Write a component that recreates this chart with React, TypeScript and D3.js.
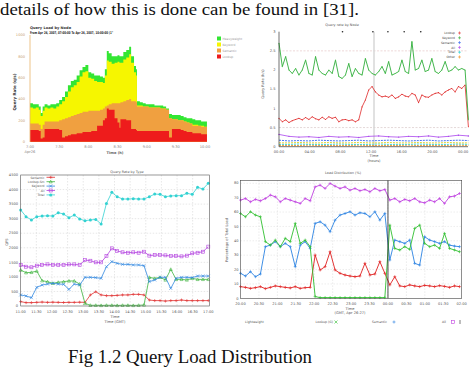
import React from 'react';
import * as d3 from 'd3';

// ---------------- Panel A (top-left): stacked query rate by class ----------------
const aMinutes = [0,3,6,9,11,13,15,18,21,24,27,30,33,36,39,42,45,48,51,54,57,60,63,66,69,72,75,77,79,81,84,87,90,92,93,96,99,102,104,107,109,110,113,116,119,122,125,128,131,134,137,140,143,146,149,152,155,158,161,164,167,170,173,176,179,182];
const aLookupTop = [11,11,11,10,3,4,12,12,12,12,12,11,4,5,6,7,7,8,8,9,9,9,10,10,15,15,20,22,31,30,30,22,18,13,21,21,20,20,12,12,11,10,10,10,10,10,10,10,10,10,10,10,4,12,12,12,11,10,9,9,8,8,8,7,7,7];
const aSemanticTop = [17,17,17,16,12,16,19,19,19,19,19,20,21,22,23,24,25,26,27,28,28,29,29,29,29,30,31,33,34,35,36,36,36,36,37,38,39,40,38,38,37,33,33,33,33,32,32,32,32,31,31,30,22,21,21,20,20,19,18,17,15,15,15,14,14,14];
const aKeywordTop = [32,31,32,30,24,29,32,31,32,31,33,35,38,42,47,51,53,56,61,65,66,60,59,57,56,56,55,62,76,75,73,74,75,74,74,77,79,82,74,65,62,34,34,33,33,32,32,32,32,31,31,30,22,21,21,20,20,19,18,17,16,16,15,15,14,14];
const aTotal = [36,35,35,33,27,33,35,34,35,35,36,39,42,47,53,57,58,62,67,70,72,65,64,62,62,61,60,68,85,83,80,80,81,80,80,84,86,89,80,71,68,38,37,36,35,35,35,34,34,34,33,31,26,25,25,25,24,23,22,22,21,20,20,19,19,18];
const aYTicks = [0,20,40,60,80,100];
const aYLabels = ['0','200','400','600','800','1000'];
const aXTicks = [0,30,60,90,120,150,180];
const aXLabels = ['7:00','7:30','8:00','8:30','9:00','9:30','10:00'];
const aLegend = ['Heavyweight','Keyword','Semantic','Lookup'];

// ---------------- Panel B (top-right): rate per node ----------------
const bStepHours = 0.1083;
const bGreen = [2.70,2.09,2.35,2.00,1.91,2.04,1.87,2.00,2.26,1.91,1.87,2.35,2.00,1.91,1.87,2.00,1.91,2.26,1.83,1.78,1.87,2.17,1.83,2.04,1.91,1.87,2.30,2.00,1.91,1.87,1.96,2.09,1.91,2.22,1.87,1.91,1.96,2.26,1.96,1.91,2.74,2.00,2.04,2.26,1.96,2.00,2.30,1.96,1.91,2.00,2.22,1.96,2.00,2.09,2.00,2.04,2.00,0.70];
const bRed = [0.74,0.65,0.70,0.63,0.68,0.71,0.74,0.70,0.76,0.71,0.78,0.73,0.70,0.77,0.71,0.78,0.74,0.77,0.65,0.70,0.71,0.68,0.70,0.65,0.70,1.04,1.22,1.48,1.57,1.43,1.35,1.30,1.32,1.29,1.35,1.26,1.30,1.37,1.32,1.30,1.39,1.35,1.15,1.35,1.30,1.29,1.35,1.39,1.41,1.35,1.43,1.48,1.52,1.43,1.57,1.52,1.61,0.52];
const bPurple = [0.32,0.27,0.25,0.26,0.24,0.27,0.25,0.26,0.24,0.27,0.28,0.26,0.25,0.27,0.26,0.28,0.25,0.27,0.30,0.28];
const bBlue = [0.17,0.15,0.16,0.15,0.17,0.16,0.15,0.16,0.17,0.15,0.16,0.17,0.16,0.15,0.16,0.17,0.15,0.16,0.17,0.16];
const bYellow = [0.10,0.10,0.11,0.10,0.10,0.11,0.10,0.10,0.11,0.10,0.10,0.11,0.10,0.10,0.11,0.10,0.10,0.11,0.10,0.10];
const bCyan = [0.06,0.06,0.07,0.06,0.06,0.06,0.07,0.06,0.06,0.06,0.07,0.06,0.06,0.06,0.07,0.06,0.06,0.06,0.07,0.06];
const bOrange = [0.03,0.03,0.03,0.04,0.03,0.03,0.03,0.03,0.04,0.03,0.03,0.03,0.03,0.04,0.03,0.03,0.03,0.03,0.04,0.03];
const bEvents = [2.07,3.06,3.55,4.08,4.62];
const bYTicks = [0,0.5,1,1.5,2,2.5,3];
const bXLabels = ['00:00','04:00','08:00','12:00','16:00','20:00','00:00'];
const bLegend = ['Lookup','Keyword','Semantic','All','Total','Other'];

// ---------------- Panel C (bottom-left): rate by type ----------------
const cSamples = 36;
const cTotal = [6.6,6.14,5.91,6.14,6.18,6.2,6.18,6.41,6.32,6.07,6.25,5.98,5.86,5.91,5.95,5.63,7.05,7.81,7.51,7.35,7.35,7.37,7.35,7.35,7.51,7.69,7.67,7.51,7.56,7.58,7.58,7.74,7.67,8.15,8.04,8.43];
const cAll = [2.82,2.70,2.66,2.77,2.82,2.86,2.82,2.82,2.82,2.86,2.86,2.82,3.16,3.11,3.0,3.0,3.43,3.96,3.78,3.69,3.66,3.69,3.66,3.73,3.46,3.5,3.5,3.48,3.43,3.43,3.41,3.46,3.62,3.66,3.73,4.08];
const cKeyword = [0.76,0.69,0.57,1.28,1.44,1.51,1.56,1.51,1.49,1.14,1.51,1.44,1.97,1.97,1.95,1.9,2.7,3.05,2.93,2.86,2.86,2.82,2.82,2.77,1.67,1.79,1.97,1.97,1.21,1.9,1.97,1.97,1.95,2.06,2.06,2.06];
const cLookupSm = [2.47,2.29,2.31,2.4,1.74,1.67,1.56,1.63,1.67,1.72,1.72,1.51,0.18,0.05,0.05,0.04,0.05,0.05,0.04,0.05,0.05,0.04,0.05,0.07,1.97,1.9,1.97,1.79,2.52,1.83,1.83,1.79,1.9,1.83,1.83,1.83];
const cSemantic = [0.3,0.23,0.23,0.25,0.27,0.25,0.26,0.25,0.24,0.25,0.25,0.26,0.25,0.76,0.98,0.76,0.71,0.71,0.73,0.76,0.76,0.8,0.8,0.76,0.41,0.37,0.37,0.34,0.37,0.37,0.41,0.37,0.37,0.37,0.37,0.37];
const cYTicks = [0,1,2,3,4,5,6,7,8,9];
const cYLabels = ['0','500','1000','1500','2000','2500','3000','3500','4000','4500'];
const cXLabels = ['11:00','11:30','12:00','12:30','13:00','13:30','14:00','14:30','15:00','15:30','16:00','16:30','17:00'];
const cLegend = ['Semantic','Lookup-Sm','Keyword','All','Total'];

// ---------------- Panel D (bottom-right): share of total load ----------------
const dStepMinutes = 8.1;
const dAll = [68.3,69.4,67.1,68.8,67.8,69.4,71.8,70.6,67.1,69.4,68.3,67.1,66,69.4,67.8,77.5,78.7,76.4,79.9,78,76.4,77.5,75.2,76.4,74.8,75.7,74.1,76.4,74.8,75.7,68.3,69.4,67.1,68.8,67.8,69.4,67.1,66.4,68.3,67.1,69.4,66,70.6,71.1,72.9];
const dLookup = [59,56.7,60.2,57.9,56.7,39.4,37,40.5,35.9,41.7,39.4,52.1,38.2,40.5,35.9,1.2,0.5,0.5,0.5,0.5,0.5,0.5,0.5,0.5,0.5,0.5,0.5,0.5,0.5,0.5,50.9,34.7,33.6,35.9,34,48.6,50.9,38.2,35.9,37,34.7,45.1,34.7,33.6,32.4];
const dSemantic = [17.4,15.5,18.5,15,16.9,35.9,37,39.4,35.9,38.2,35.9,22,37,39.4,34.7,52.1,53.2,50.9,46.3,54.4,57.9,59,60.2,57.9,59.5,59,56.7,60.2,54.4,59,26.6,40.5,39.4,38.2,40.5,24.3,23.1,42.8,40.5,39.4,38.2,39.4,37,36.3,35.9];
const dLight = [8.1,7.6,6.9,7.4,8.1,6.7,7.6,8.6,8.1,7.6,7.2,8.1,6.9,7.4,7.6,30.1,19.7,22,32.4,19.7,17.4,16.2,15.5,15,15.5,24.3,16.2,16.9,25.5,17.4,9.3,15,8.6,8.1,9.3,8.6,8.1,9,8.6,8.1,8.8,8.3,7.6,8.6,8.1];
const dYTicks = [0,10,20,30,40,50,60,70,80];
const dXLabels = ['20:00','20:30','21:00','21:30','22:00','22:30','23:00','23:30','00:00','00:30','01:00','01:30','02:00'];
const dMarkMinutes = 240;
const dLegend = ['Lightweight','Lookup (G)','Semantic','All'];

const SANS = 'DejaVu Sans, Arial, sans-serif';
const SERIF = 'Liberation Serif, Times New Roman, serif';
const tiny = { fontFamily: SANS, fontSize: 3.6, fill: '#555' } as const;

function line(xs: number[], ys: number[], xs2: (v: number) => number, ys2: (v: number) => number, curve: d3.CurveFactory = d3.curveLinear) {
  return d3.line<number>().x((_, i) => xs2(xs[i])).y((d) => ys2(d)).curve(curve)(ys) ?? '';
}

function Marker({ kind, cx, cy, color }: { kind: string; cx: number; cy: number; color: string }) {
  const s = 1.5;
  if (kind === 'plus') return <path d={`M${cx - s},${cy}H${cx + s}M${cx},${cy - s}V${cy + s}`} stroke={color} strokeWidth={0.6} />;
  if (kind === 'tri') return <path d={`M${cx},${cy - s}L${cx + s},${cy + s * 0.8}L${cx - s},${cy + s * 0.8}Z`} fill="none" stroke={color} strokeWidth={0.6} />;
  if (kind === 'x') return <path d={`M${cx - s},${cy - s}L${cx + s},${cy + s}M${cx - s},${cy + s}L${cx + s},${cy - s}`} stroke={color} strokeWidth={0.6} />;
  if (kind === 'square') return <rect x={cx - s} y={cy - s} width={2 * s} height={2 * s} fill="none" stroke={color} strokeWidth={0.6} />;
  return <circle cx={cx} cy={cy} r={1.5} fill={color} />;
}

function PanelA() {
  const x = d3.scaleLinear([0, 180], [30, 205]);
  const y = d3.scaleLinear([0, 100], [141.7, 35]);
  const area = (hi: number[]) =>
    d3.area<number>().x((_, i) => x(aMinutes[i])).y0(y(0)).y1((d) => y(d)).curve(d3.curveStepAfter)(hi) ?? '';
  const layers = [
    { data: aTotal, color: '#33e633' },
    { data: aKeywordTop, color: '#f6f600' },
    { data: aSemanticTop, color: '#f0a040' },
    { data: aLookupTop, color: '#ee1c1c' },
  ];
  const legendColors = ['#33e633', '#f6f600', '#f0a040', '#ee1c1c'];
  return (
    <g>
      <text x={30} y={28.5} style={{ ...tiny, fontSize: 3.6, fill: '#333', fontWeight: 'bold' }}>Query Load by Node</text>
      <text x={30} y={33.5} textLength={83} lengthAdjust="spacingAndGlyphs" style={{ ...tiny, fontSize: 3.8, fill: '#222', fontWeight: 'bold' }}>
        From Apr 26, 2007, 07:00:00 To Apr 26, 2007, 10:00:00 (1"
      </text>
      {layers.map((l, k) => <path key={k} d={area(l.data)} fill={l.color} />)}
      <line x1={30} x2={30} y1={35} y2={142} stroke="#e9b46a" strokeWidth={0.8} />
      {aYTicks.map((t, i) => (
        <text key={t} x={25} y={y(t) + 1.2} textAnchor="end" style={{ ...tiny, fill: '#c8a070' }}>{aYLabels[i]}</text>
      ))}
      {aXTicks.map((t, i) => (
        <text key={t} x={x(t)} y={148} textAnchor="middle" style={{ ...tiny, fill: '#888' }}>{aXLabels[i]}</text>
      ))}
      <text x={x(0)} y={153} textAnchor="middle" style={{ ...tiny, fill: '#888' }}>Apr26</text>
      <text x={115} y={153.5} textAnchor="middle" style={{ ...tiny, fill: '#666', fontWeight: 'bold' }}>Time (h)</text>
      <text transform="translate(15.5,92) rotate(-90)" textAnchor="middle" style={{ ...tiny, fontSize: 4, fill: '#333', fontWeight: 'bold' }}>Query Rate (q/s)</text>
      {aLegend.map((name, i) => (
        <g key={name}>
          <rect x={217} y={36.5 + i * 6} width={4} height={4} fill={legendColors[i]} />
          <text x={222.5} y={39.8 + i * 6} style={{ ...tiny, fontSize: 3, fill: '#999' }}>{name}</text>
        </g>
      ))}
    </g>
  );
}

function PanelB() {
  const x = d3.scaleLinear([0, 6.16], [279, 468]);
  const y = d3.scaleLinear([0, 3], [146.7, 31.7]);
  const fineHours = bGreen.map((_, i) => i * bStepHours);
  const coarseHours = bPurple.map((_, i) => i * 3 * bStepHours);
  const flat = [
    { data: bOrange, color: '#f09020' },
    { data: bCyan, color: '#22d0d8' },
    { data: bYellow, color: '#e0d020' },
    { data: bBlue, color: '#3366ee' },
  ];
  const legendColors = ['#e03030', '#33aa33', '#3366ee', '#aa44ee', '#22ccd0', '#f09020'];
  return (
    <g>
      <text x={342} y={25.5} textAnchor="middle" style={{ ...tiny, fontSize: 3.4, fill: '#555' }}>Query rate by Node</text>
      <line x1={x(0)} x2={468} y1={y(2.5)} y2={y(2.5)} stroke="#e8c8c8" strokeWidth={0.7} strokeDasharray="2,1.5" />
      <line x1={x(0)} x2={468} y1={y(0.5)} y2={y(0.5)} stroke="#d8c8c8" strokeWidth={0.7} strokeDasharray="2,1.5" />
      <line x1={374} x2={374} y1={31.7} y2={146.7} stroke="#d4d4d4" strokeWidth={1.4} />
      {flat.map((f, k) => (
        <path key={k} d={line(coarseHours, f.data, x, y)} fill="none" stroke={f.color} strokeWidth={0.9} strokeDasharray="2,1" />
      ))}
      <path d={line(coarseHours, bPurple, x, y)} fill="none" stroke="#aa44ee" strokeWidth={0.8} />
      {bPurple.map((v, i) => <circle key={i} cx={x(coarseHours[i])} cy={y(v)} r={0.7} fill="#aa44ee" />)}
      <path d={line(fineHours, bRed, x, y)} fill="none" stroke="#e02a2a" strokeWidth={0.8} />
      {bRed.map((v, i) => <circle key={i} cx={x(fineHours[i])} cy={y(v)} r={0.55} fill="#e02a2a" />)}
      <path d={line(fineHours, bGreen, x, y)} fill="none" stroke="#2fae3a" strokeWidth={0.9} />
      {bGreen.map((v, i) => <circle key={i} cx={x(fineHours[i])} cy={y(v)} r={0.55} fill="#54c454" />)}
      {bEvents.map((h, i) => <circle key={i} cx={x(h)} cy={y(3)} r={0.8} fill="#222" />)}
      <line x1={279} x2={279} y1={31.7} y2={146.7} stroke="#333" strokeWidth={0.7} />
      <line x1={279} x2={468} y1={146.7} y2={146.7} stroke="#333" strokeWidth={0.7} />
      {bYTicks.map((t) => (
        <text key={t} x={275.5} y={y(t) + 1.2} textAnchor="end" style={tiny}>{t}</text>
      ))}
      {bXLabels.map((l, i) => (
        <text key={i} x={x(i)} y={152.5} textAnchor="middle" style={tiny}>{l}</text>
      ))}
      <text x={374} y={157} textAnchor="middle" style={tiny}>Time</text>
      <text x={374} y={161.5} textAnchor="middle" style={tiny}>(hours)</text>
      <text transform="translate(264,84) rotate(-90)" textAnchor="middle" style={tiny}>Query Rate (k/s)</text>
      {bLegend.map((name, i) => (
        <g key={name}>
          <text x={455} y={34.2 + i * 4.8} textAnchor="end" style={{ ...tiny, fontSize: 3, fill: '#444' }}>{name}</text>
          <Marker kind="plus" cx={459.5} cy={33 + i * 4.8} color={legendColors[i]} />
        </g>
      ))}
    </g>
  );
}

function PanelC() {
  const x = d3.scaleLinear([0, 360], [20.7, 208.3]);
  const y = d3.scaleLinear([0, 9], [306, 175]);
  const minutes = d3.range(cSamples).map((i) => (i * 360) / (cSamples - 1));
  const series = [
    { data: cSemantic, color: '#e03030', kind: 'plus' },
    { data: cLookupSm, color: '#3fb43f', kind: 'tri' },
    { data: cKeyword, color: '#2f86e0', kind: 'x' },
    { data: cAll, color: '#b444e0', kind: 'square' },
    { data: cTotal, color: '#33d2d2', kind: 'circle' },
  ];
  const xTicks = cXLabels.map((_, i) => i * 30);
  return (
    <g>
      <text x={127} y={173} textAnchor="middle" style={{ ...tiny, fontSize: 3.4 }}>Query Rate by Type</text>
      {cYTicks.slice(1, -1).map((t) => (
        <line key={t} x1={20.7} x2={209.3} y1={y(t)} y2={y(t)} stroke="#cfcfcf" strokeWidth={0.5} strokeDasharray="1.5,1.5" />
      ))}
      {xTicks.slice(1, -1).map((t) => (
        <line key={t} x1={x(t)} x2={x(t)} y1={175} y2={306} stroke="#cfcfcf" strokeWidth={0.5} strokeDasharray="1.5,1.5" />
      ))}
      {series.map((s) => (
        <g key={s.color}>
          <path d={line(minutes, s.data, x, y)} fill="none" stroke={s.color} strokeWidth={0.8} />
          {s.data.map((v, i) => <Marker key={i} kind={s.kind} cx={x(minutes[i])} cy={y(v)} color={s.color} />)}
        </g>
      ))}
      <rect x={20.7} y={175} width={188.6} height={131} fill="none" stroke="#555" strokeWidth={0.6} />
      {cYTicks.map((t, i) => (
        <text key={t} x={18} y={y(t) + 1.2} textAnchor="end" style={tiny}>{cYLabels[i]}</text>
      ))}
      {cXLabels.map((l, i) => (
        <text key={i} x={x(xTicks[i])} y={312.5} textAnchor="middle" style={tiny}>{l}</text>
      ))}
      <text x={115} y={317.5} textAnchor="middle" style={tiny}>Time</text>
      <text x={115} y={322.5} textAnchor="middle" style={tiny}>Time (GMT)</text>
      <text transform="translate(8,242) rotate(-90)" textAnchor="middle" style={tiny}>QPS</text>
      {cLegend.map((name, i) => {
        const s = series[i];
        const ly = 177.3 + i * 4.4;
        return (
          <g key={name}>
            <text x={44.5} y={ly + 1.2} textAnchor="end" style={{ ...tiny, fontSize: 3 }}>{name}</text>
            <line x1={46.5} x2={55} y1={ly} y2={ly} stroke={s.color} strokeWidth={0.8} />
            <Marker kind={s.kind} cx={50.7} cy={ly} color={s.color} />
          </g>
        );
      })}
    </g>
  );
}

function PanelD() {
  const x = d3.scaleLinear([0, 360], [240.5, 461.7]);
  const y = d3.scaleLinear([0, 82], [298.3, 180.4]);
  const minutes = dAll.map((_, i) => i * dStepMinutes);
  const series = [
    { data: dLight, color: '#e02020' },
    { data: dSemantic, color: '#2a82e2' },
    { data: dLookup, color: '#30c030' },
    { data: dAll, color: '#c040e0' },
  ];
  const xTicks = dXLabels.map((_, i) => i * 30);
  return (
    <g>
      <text x={343} y={173.5} textAnchor="middle" style={{ ...tiny, fontSize: 3.4 }}>Load Distribution (%)</text>
      {dYTicks.slice(1).map((t) => (
        <line key={t} x1={240.5} x2={461.7} y1={y(t)} y2={y(t)} stroke="#dadada" strokeWidth={0.5} strokeDasharray="1.5,1.5" />
      ))}
      {xTicks.slice(1, -1).map((t) => (
        <line key={t} x1={x(t)} x2={x(t)} y1={180.4} y2={298.3} stroke="#d4d4d4" strokeWidth={0.5} strokeDasharray="1.5,1.5" />
      ))}
      {series.map((s) => (
        <g key={s.color}>
          <path d={line(minutes, s.data, x, y)} fill="none" stroke={s.color} strokeWidth={0.9} />
          {s.data.map((v, i) => <Marker key={i} kind="plus" cx={x(minutes[i])} cy={y(v)} color={s.color} />)}
        </g>
      ))}
      <line x1={x(dMarkMinutes)} x2={x(dMarkMinutes)} y1={180.4} y2={298.3} stroke="#222" strokeWidth={0.8} />
      <rect x={240.5} y={180.4} width={221.2} height={117.9} fill="none" stroke="#444" strokeWidth={0.6} />
      {dYTicks.map((t) => (
        <text key={t} x={238.5} y={y(t) + 1.2} textAnchor="end" style={tiny}>{t}</text>
      ))}
      {dXLabels.map((l, i) => (
        <text key={i} x={x(xTicks[i])} y={304.5} textAnchor="middle" style={tiny}>{l}</text>
      ))}
      <text x={350} y={309.5} textAnchor="middle" style={tiny}>Time</text>
      <text x={350} y={314} textAnchor="middle" style={tiny}>(GMT, Apr 26-27)</text>
      <text transform="translate(228,240) rotate(-90)" textAnchor="middle" style={tiny}>Percentage of Total Load</text>
      <text x={245} y={323.3} style={{ ...tiny, fontSize: 3.2 }}>{dLegend[0]}</text>
      <text x={333} y={323.3} textAnchor="end" style={{ ...tiny, fontSize: 3.2 }}>{dLegend[1]}</text>
      <Marker kind="x" cx={336} cy={322} color="#30c030" />
      <text x={387} y={323.3} textAnchor="end" style={{ ...tiny, fontSize: 3.2 }}>{dLegend[2]}</text>
      <Marker kind="plus" cx={394} cy={322} color="#2a82e2" />
      <text x={446} y={323.3} textAnchor="end" style={{ ...tiny, fontSize: 3.2 }}>{dLegend[3]}</text>
      <Marker kind="square" cx={453} cy={322} color="#c040e0" />
      <line x1={460} x2={460} y1={320} y2={324} stroke="#222" strokeWidth={0.6} />
    </g>
  );
}

export default function App() {
  return (
    <svg width={474} height={387} viewBox="0 0 474 387" style={{ position: 'absolute', left: 0, top: 0, background: '#fff' }}>
      <rect width={474} height={387} fill="#fff" />
      <text x={0} y={15} textLength={359} lengthAdjust="spacingAndGlyphs" style={{ fontFamily: SERIF, fontSize: 17, fill: '#111' }}>details of how this is done can be found in [31].</text>
      <PanelA />
      <PanelB />
      <PanelC />
      <PanelD />
      <text x={68} y={362.5} textLength={244} lengthAdjust="spacingAndGlyphs" style={{ fontFamily: SERIF, fontSize: 18, fill: '#111' }}>Fig 1.2 Query Load Distribution</text>
    </svg>
  );
}
